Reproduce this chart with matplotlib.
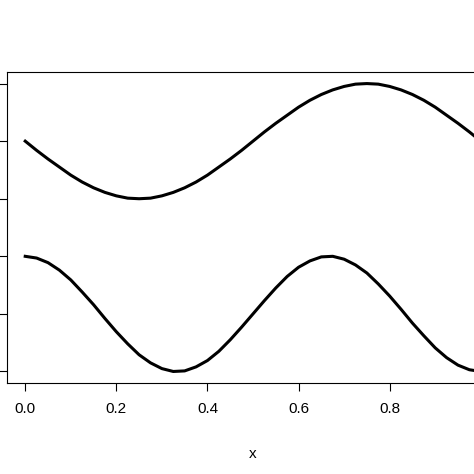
import matplotlib
matplotlib.use("Agg")
import matplotlib.pyplot as plt

x = [i * 0.025 for i in range(41)]
top = [3.00,2.84,2.69,2.55,2.41,2.29,2.19,2.11,2.05,2.01,2.00,2.01,2.05,2.11,2.19,2.29,2.41,2.55,2.69,2.84,3.00,
       3.16,3.31,3.45,3.59,3.71,3.81,3.89,3.95,3.99,4.00,3.99,3.95,3.89,3.81,3.71,3.59,3.45,3.31,3.16,3.00]
bottom = [1.00,0.97,0.89,0.76,0.59,0.38,0.16,-0.08,-0.31,-0.52,-0.71,-0.85,-0.95,-1.00,-0.99,-0.92,-0.81,-0.65,-0.45,-0.23,0.00,
          0.23,0.45,0.65,0.81,0.92,0.99,1.00,0.95,0.85,0.71,0.52,0.31,0.08,-0.16,-0.38,-0.59,-0.76,-0.89,-0.97,-1.00]
xticks = [0.0, 0.2, 0.4, 0.6, 0.8]
yticks = [-1, 0, 1, 2, 3, 4]

plt.rcParams['font.family'] = ['Liberation Sans', 'DejaVu Sans']
fig = plt.figure(figsize=(4.74, 4.74), dpi=100)
ax = fig.add_axes([7/474, 0.192, 492/474, 0.656])
ax.plot(x, top, color='black', lw=2.2)
ax.plot(x, bottom, color='black', lw=2.2)
ax.set_xlim(-0.04, 1.04)
ax.set_ylim(-1.2, 4.2)
ax.set_xticks(xticks)
ax.set_yticks(yticks)
ax.set_xticklabels([f"{t:.1f}" for t in xticks])
ax.set_yticklabels([])
ax.tick_params(direction='out', length=6, labelsize=11, pad=8)
ax.set_xlabel("x", fontsize=11, labelpad=22)
fig.savefig("out.png", dpi=100)
